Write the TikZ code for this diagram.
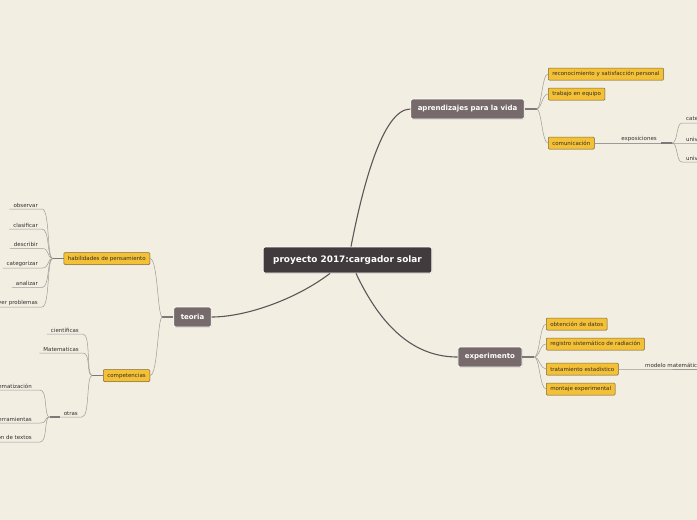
\documentclass[tikz,border=0pt]{standalone}
\usepackage{fontspec}
\setmainfont{DejaVu Sans}
\usetikzlibrary{calc}
\usetikzlibrary{shadows}

\definecolor{paper}{RGB}{243,238,226}
\definecolor{rootfill}{RGB}{66,59,61}
\definecolor{mainfill}{RGB}{119,106,107}
\definecolor{leaffill}{RGB}{244,193,54}
\definecolor{leafdraw}{RGB}{128,108,58}
\definecolor{trunkcol}{RGB}{92,86,88}
\definecolor{twigcol}{RGB}{160,154,150}
\definecolor{inkcol}{RGB}{51,46,44}

\tikzset{
  rootbox/.style={fill=rootfill, draw=white, line width=0.8pt, rounded corners=2pt, text=white,
    font=\bfseries\fontsize{8.9}{10}\selectfont, minimum height=26pt, inner xsep=10pt,
    drop shadow={shadow xshift=0.6pt, shadow yshift=-0.6pt, opacity=0.25}},
  mainbox/.style={fill=mainfill, draw=white, line width=0.8pt, rounded corners=2pt, text=white,
    font=\bfseries\fontsize{7}{8}\selectfont, minimum height=20pt, inner xsep=7pt,
    drop shadow={shadow xshift=0.6pt, shadow yshift=-0.6pt, opacity=0.25}},
  leaf/.style={fill=leaffill, draw=leafdraw, line width=0.5pt, rounded corners=1pt, text=inkcol,
    font=\fontsize{5.5}{6}\selectfont, minimum height=12pt, inner xsep=4pt, inner ysep=1pt,
    drop shadow={shadow xshift=0.5pt, shadow yshift=-0.5pt, opacity=0.25}},
  lbl/.style={text=inkcol, font=\fontsize{5.5}{6}\selectfont, inner xsep=4pt, inner ysep=1.5pt},
  trunk/.style={draw=trunkcol, line width=1.1pt},
  twig/.style={draw=twigcol, line width=0.5pt},
  stub/.style={draw=trunkcol!80, line width=1.2pt},
}

\begin{document}
\begin{tikzpicture}[x=1pt, y=-1pt]
    \clip (0,0) rectangle (697,520);
    \fill[paper] (0,0) rectangle (697,520);

    % main topics
    \node[rootbox] (root) at (347.5,260) {proyecto 2017:cargador solar};
    \node[mainbox] (apr) at (467.5,109) {aprendizajes para la vida};
    \node[mainbox] (teo) at (192.5,317) {teoria};
    \node[mainbox] (exp) at (490,357) {experimento};

    \draw[trunk] ([xshift=3.5pt]root.north) .. controls (362,190) and (382,109) .. (apr.west);
    \draw[trunk] ([xshift=-17.5pt]root.south) .. controls (295,300) and (245,317) .. (teo.east);
    \draw[trunk] ([xshift=8.5pt]root.south) .. controls (385,335) and (420,357) .. (exp.west);

    % aprendizajes para la vida
    \node[leaf, anchor=west] (rec) at (548,74) {reconocimiento y satisfacción personal};
    \node[leaf, anchor=west] (tra) at (548,94) {trabajo en equipo};
    \node[leaf, anchor=west] (com) at (548,143) {comunicación};
    \coordinate (aprj) at ($(apr.east)+(12,0)$);
    \draw[stub] (apr.east) -- (aprj);
    \foreach \n in {rec,tra,com} {
      \draw[twig] (aprj) .. controls +(5,0) and +(-6,0) .. (\n.west);
    }

    \node[lbl, anchor=south east] (expo) at (661,143) {exposiciones};
    \coordinate (expoj) at ($(expo.south east)+(11,0)$);
    \draw[twig] (com.east) -- (expo.south east);
    \draw[stub] (expo.south east) -- (expoj);
    \foreach \t/\yy [count=\i] in {categorías/123, universidad/143, universo/162} {
      \node[lbl, anchor=south west] (c\i) at (682,\yy) {\t};
      \draw[twig] (expoj) .. controls +(6,0) and +(-6,0) .. (c\i.south west) -- (c\i.south east);
    }

    % experimento
    \node[leaf, anchor=west] (obt) at (546,324) {obtención de datos};
    \node[leaf, anchor=west] (reg) at (546,344) {registro sistemático de radiación};
    \node[leaf, anchor=west] (trat) at (546,369) {tratamiento estadístico};
    \node[leaf, anchor=west] (mon) at (546,389) {montaje experimental};
    \coordinate (expj) at ($(exp.east)+(12,0)$);
    \draw[stub] (exp.east) -- (expj);
    \foreach \n in {obt,reg,trat,mon} {
      \draw[twig] (expj) .. controls +(5,0) and +(-6,0) .. (\n.west);
    }
    \node[lbl, anchor=south west] (mod) at (641,369) {modelo matemático};
    \draw[twig] (trat.east) -- (mod.south west) -- (mod.south east);

    % teoria
    \node[leaf, anchor=east] (hab) at (150,258.5) {habilidades de pensamiento};
    \node[leaf, anchor=east] (comp) at (150,375.5) {competencias};
    \coordinate (teoj) at ($(teo.west)+(-11,0)$);
    \draw[stub] (teo.west) -- (teoj);
    \foreach \n in {hab,comp} {
      \draw[twig] (teoj) .. controls +(-5,0) and +(8,0) .. (\n.east);
    }

    \coordinate (habj) at ($(hab.west)+(-11,0)$);
    \draw[stub] (hab.west) -- (habj);
    \foreach \t/\yy [count=\i] in {observar/209, clasificar/229, describir/248.5, categorizar/268, analizar/287.5, resolver problemas/307} {
      \node[lbl, anchor=south east] (h\i) at (42,\yy) {\t};
      \draw[twig] (habj) .. controls +(-6,0) and +(8,0) .. (h\i.south east) -- (h\i.south west);
    }

    \coordinate (compj) at ($(comp.west)+(-11,0)$);
    \draw[stub] (comp.west) -- (compj);
    \node[lbl, anchor=south east] (cie) at (83,334) {científicas};
    \node[lbl, anchor=south east] (mat) at (83,353) {Matematicas};
    \node[lbl, anchor=south east] (otr) at (82,417) {otras};
    \foreach \n in {cie,mat,otr} {
      \draw[twig] (compj) .. controls +(-6,0) and +(8,0) .. (\n.south east) -- (\n.south west);
    }

    \coordinate (otrj) at ($(otr.south west)+(-10,0)$);
    \draw[stub] (otr.south west) -- (otrj);
    \foreach \t/\yy [count=\i] in {sistematización/390, uso de herramientas/423, producción de textos/442} {
      \node[lbl, anchor=south east, inner xsep=8pt] (o\i) at (40,\yy) {\t};
      \draw[twig] (otrj) .. controls +(-6,0) and +(8,0) .. (o\i.south east) -- (o\i.south west);
    }
\end{tikzpicture}
\end{document}
